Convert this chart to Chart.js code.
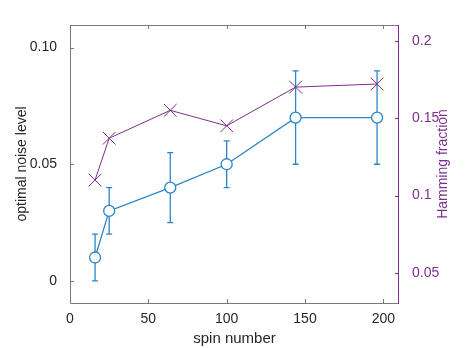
<!DOCTYPE html>
<html lang="en">
<head>
<meta charset="UTF-8">
<title>Optimal noise level</title>
<script src="https://cdn.jsdelivr.net/npm/chart.js"></script>
<style>
    body { margin: 0; background: #fff; }
    .chart-container { position: relative; width: 474px; height: 348px; }
</style>
</head>
<body>
<div class="chart-container">
    <canvas id="chart"></canvas>
</div>
<script>
    // data
    const spins = [16, 25, 64, 100, 144, 196];
    const noise = [0.01, 0.03, 0.04, 0.05, 0.07, 0.07];
    const noiseLow = [0, 0.02, 0.025, 0.04, 0.05, 0.05];
    const noiseHigh = [0.02, 0.04, 0.055, 0.06, 0.09, 0.09];
    const hamming = [0.11, 0.137, 0.155, 0.145, 0.17, 0.172];

    const xTicks = [0, 50, 100, 150, 200];
    const leftTicks = [0, 0.05, 0.10];
    const rightTicks = [0.05, 0.1, 0.15, 0.2];

    const blue = '#2a86c6';
    const purple = '#7e2f8e';
    const frameGray = '#7a7a7a';
    const textColor = '#262626';

    const font = { family: '"Liberation Sans", Arial, sans-serif', size: 14 };

    // error bars, drawn under the markers
    const errorBars = {
        id: 'errorBars',
        beforeDatasetsDraw(chart) {
            const ctx = chart.ctx;
            const x = chart.scales.x, y = chart.scales.y;
            ctx.save();
            ctx.strokeStyle = blue;
            ctx.lineWidth = 1.3;
            spins.forEach((s, i) => {
                const px = x.getPixelForValue(s);
                const lo = y.getPixelForValue(noiseLow[i]);
                const hi = y.getPixelForValue(noiseHigh[i]);
                ctx.beginPath();
                ctx.moveTo(px, lo); ctx.lineTo(px, hi);
                ctx.moveTo(px - 3, lo); ctx.lineTo(px + 3, lo);
                ctx.moveTo(px - 3, hi); ctx.lineTo(px + 3, hi);
                ctx.stroke();
            });
            ctx.restore();
        }
    };

    // matlab style box with inward ticks, plus right title reading upwards
    const frame = {
        id: 'frame',
        beforeDatasetsDraw(chart) {
            const ctx = chart.ctx;
            const a = chart.chartArea;
            const x = chart.scales.x, y = chart.scales.y, y2 = chart.scales.y2;
            const len = 4;
            ctx.save();
            ctx.lineWidth = 1;
            ctx.strokeStyle = frameGray;
            ctx.beginPath();
            ctx.moveTo(a.right, a.top + 0.5); ctx.lineTo(a.left + 0.5, a.top + 0.5);
            ctx.lineTo(a.left + 0.5, a.bottom + 0.5); ctx.lineTo(a.right, a.bottom + 0.5);
            xTicks.forEach(v => {
                const px = Math.round(x.getPixelForValue(v)) + 0.5;
                ctx.moveTo(px, a.bottom); ctx.lineTo(px, a.bottom - len);
                ctx.moveTo(px, a.top); ctx.lineTo(px, a.top + len);
            });
            leftTicks.forEach(v => {
                const py = Math.round(y.getPixelForValue(v)) + 0.5;
                ctx.moveTo(a.left, py); ctx.lineTo(a.left + len, py);
            });
            ctx.stroke();

            ctx.strokeStyle = purple;
            ctx.beginPath();
            ctx.moveTo(a.right - 0.5, a.top); ctx.lineTo(a.right - 0.5, a.bottom + 1);
            rightTicks.forEach(v => {
                const py = Math.round(y2.getPixelForValue(v)) + 0.5;
                ctx.moveTo(a.right, py); ctx.lineTo(a.right - len, py);
            });
            ctx.stroke();

            ctx.translate(443, (a.top + a.bottom) / 2);
            ctx.rotate(-Math.PI / 2);
            ctx.fillStyle = purple;
            ctx.font = `${font.size}px ${font.family}`;
            ctx.textAlign = 'center';
            ctx.textBaseline = 'middle';
            ctx.fillText('Hamming fraction', 0, 0);
            ctx.restore();
        }
    };

    new Chart(document.getElementById('chart'), {
        type: 'scatter',
        data: {
            datasets: [
                {
                    label: 'optimal noise level',
                    data: spins.map((s, i) => ({ x: s, y: noise[i] })),
                    yAxisID: 'y',
                    showLine: true,
                    borderColor: blue,
                    borderWidth: 1.3,
                    pointStyle: 'circle',
                    pointRadius: 5.5,
                    pointBackgroundColor: '#fff',
                    pointBorderColor: blue,
                    pointBorderWidth: 1.3
                },
                {
                    label: 'Hamming fraction',
                    data: spins.map((s, i) => ({ x: s, y: hamming[i] })),
                    yAxisID: 'y2',
                    showLine: true,
                    borderColor: purple,
                    borderWidth: 1,
                    pointStyle: 'crossRot',
                    pointRadius: 9,
                    pointBorderColor: purple,
                    pointBorderWidth: 1
                }
            ]
        },
        options: {
            responsive: true,
            maintainAspectRatio: false,
            animation: false,
            layout: { padding: { top: 25, left: 0, right: 0, bottom: 0 } },
            plugins: {
                legend: { display: false },
                tooltip: { enabled: false }
            },
            scales: {
                x: {
                    type: 'linear',
                    min: 0, max: 210,
                    afterBuildTicks: s => { s.ticks = xTicks.map(v => ({ value: v })); },
                    afterFit: s => { s.height = 45; },
                    grid: { display: false },
                    border: { display: false },
                    ticks: { color: textColor, font, padding: 0 },
                    title: { display: true, text: 'spin number', color: textColor, font: { ...font, size: 15 }, padding: { top: 0, bottom: 0 } }
                },
                y: {
                    position: 'left',
                    min: -0.0095, max: 0.1097,
                    afterBuildTicks: s => { s.ticks = leftTicks.map(v => ({ value: v })); },
                    afterFit: s => { s.width = 70; },
                    grid: { display: false },
                    border: { display: false },
                    ticks: {
                        color: textColor, font, padding: 5,
                        callback: v => v === 0 ? '0' : v.toFixed(2)
                    },
                    title: { display: true, text: 'optimal noise level', color: textColor, font, padding: { top: 14, bottom: 0 } }
                },
                y2: {
                    position: 'right',
                    min: 0.0306, max: 0.2101,
                    afterBuildTicks: s => { s.ticks = rightTicks.map(v => ({ value: v })); },
                    afterFit: s => { s.width = 75; },
                    grid: { display: false },
                    border: { display: false },
                    ticks: {
                        color: purple, font, padding: 5,
                        callback: v => String(+v.toFixed(2))
                    }
                }
            }
        },
        plugins: [frame, errorBars]
    });
</script>
</body>
</html>
